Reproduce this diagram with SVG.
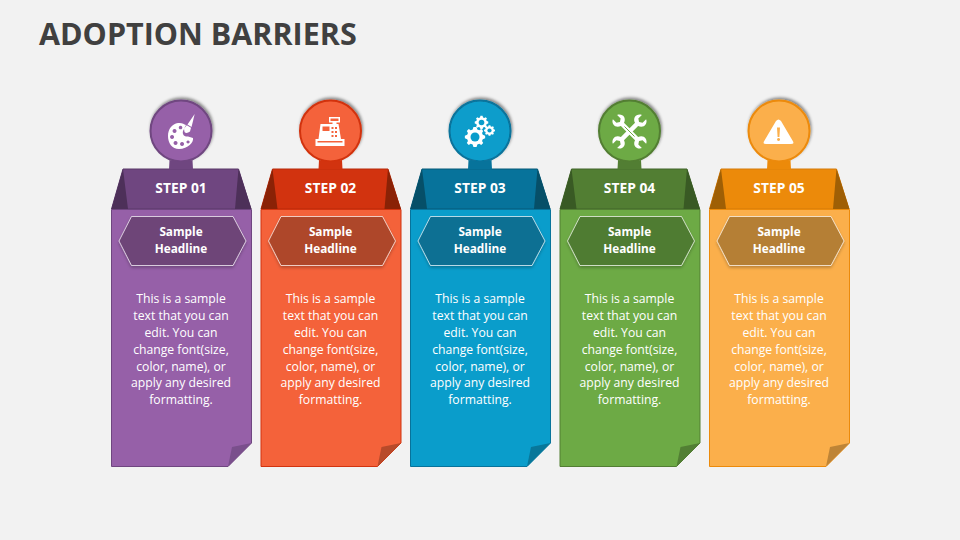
<svg xmlns="http://www.w3.org/2000/svg" width="960" height="540" viewBox="0 0 960 540">
<style>
text{font-family:"Open Sans","Noto Sans","Liberation Sans",sans-serif;text-anchor:middle;fill:#fff}
.title{font-size:30.500px;font-weight:700;fill:#404040;text-anchor:start}
.step{font-size:13.800px;font-weight:700}
.head{font-size:11.800px;font-weight:700}
.body{font-size:12.200px}
.ic{fill:#fff}
.card{fill:var(--card);stroke:var(--band)}
.band{fill:var(--band);stroke:var(--edge)}
.dark{fill:var(--dark)}
.fold{fill:var(--fold)}
.hex{fill:var(--hex);stroke:#fff;stroke-opacity:.7;stroke-width:1;filter:url(#hs)}
.disc{fill:var(--card);stroke:var(--band);stroke-width:2;filter:url(#cs)}
.hole{fill:var(--card)}
.c1{--card:#9660A8;--band:#6F4680;--edge:#5A3868;--dark:#4D3059;--fold:#7A4F8C;--hex:#6E4478}
.c2{--card:#F4623A;--band:#D2330F;--edge:#B82B0B;--dark:#8A2206;--fold:#B84A2A;--hex:#AE4729}
.c3{--card:#0A9DCB;--band:#07739B;--edge:#065A79;--dark:#064F68;--fold:#08779A;--hex:#0A6F93}
.c4{--card:#6DAA45;--band:#527E33;--edge:#41652A;--dark:#395A24;--fold:#527F34;--hex:#4F7C33}
.c5{--card:#FBAF4B;--band:#EC8A0A;--edge:#D57B08;--dark:#9F5F05;--fold:#BE8436;--hex:#B57F35}
</style>
<defs>
<filter id="cs" x="-30%" y="-30%" width="160%" height="160%"><feDropShadow dx="1" dy="-2" stdDeviation="1.800" flood-color="#000" flood-opacity=".45"/></filter>
<filter id="hs" x="-10%" y="-15%" width="120%" height="130%"><feDropShadow dx="0" dy="2" stdDeviation="1.500" flood-color="#000" flood-opacity=".25"/></filter>
<g id="shell">
<path class="band" d="M12 169H127.500L140 209H.500Z"/>
<path class="dark" d="M12 169L.500 209H17Z"/>
<path class="dark" d="M127.500 169L124 209H140.500Z"/>
<path class="card" d="M.500 209.500H140.500V443L117 466.500H.500Z"/>
<path class="fold" d="M117 466.500L121 447L140.500 443Z"/>
<path class="hex" d="M20.500 216.500H122L135 241L122 265.500H20.500L8 241Z"/>
<circle class="disc" cx="70" cy="131" r="30.500"/>
<path class="band" style="stroke:none" d="M58.500 160Q70 163 81.500 160L82 169.500H58Z"/>
</g>
<g id="lines">
<text class="head" x="70" y="236">Sample</text>
<text class="head" x="70" y="253">Headline</text>
<text class="body" x="70" y="303">This is a sample</text>
<text class="body" x="70" y="320">text that you can</text>
<text class="body" x="70" y="337">edit. You can</text>
<text class="body" x="70" y="354">change font(size,</text>
<text class="body" x="70" y="371">color, name), or</text>
<text class="body" x="70" y="387">apply any desired</text>
<text class="body" x="70" y="404">formatting.</text>
</g>
<path id="gear" d="M-2-12.750H2L3-9.750L5.500-8.750L8.200-10.250L10.500-7.750L9-5.250L10-2.750L13-1.750V1.750L10 2.750L9 5.250L10.500 7.750L8 10.250L5.500 8.750L3 9.750L2 12.750H-2L-3 9.750L-5.500 8.750L-8 10.250L-10.500 7.750L-9 5.250L-10 2.750L-13 1.750V-1.750L-10-2.750L-9-5.250L-10.500-7.750L-8-10.250L-5.500-8.750L-3-9.750Z"/>
<path id="wrench" d="M-2.200-10C-5.500-11-7-14-6.500-16C-6-18.500-4.500-20-3-20.500V-15.500L0-13.500L3-15.500V-20.500C4.500-20 6-18.500 6.500-16C7-14 5.500-11 2.200-10V10C5.500 11 7 14 6.500 16C6 18.500 4.500 20 3 20.500V15.500L0 13.500L-3 15.500V20.500C-4.500 20-6 18.500-6.500 16C-7 14-5.500 11-2.200 10Z"/>
</defs>
<rect width="960" height="540" fill="#F2F2F2"/>
<text class="title" x="39" y="45">ADOPTION BARRIERS</text>
<g id="connectors"/>

<g id="step-01" class="c1" transform="translate(111,0)">
<use href="#shell"/>
<text class="step" x="70" y="193">STEP 01</text>
<use href="#lines"/>
<g class="ic">
<path fill-rule="evenodd" d="M67 123C71 122.500 73 124 75 125L72 131C71 135 74 137 77 136.500L82 138C83 142 77 149 68 149C61 149 57 143 57 136C57 129 61 124 67 123ZM63.500 129a2 2 0 1 0 .1 0ZM61 135a2 2 0 1 0 .1 0ZM69.500 125.700a1.800 1.800 0 1 0 .1 0ZM64.500 141a2 2 0 1 0 .1 0ZM71 142a2 2 0 1 0 .1 0ZM77 140.400a1.600 1.600 0 1 0 .1 0Z"/>
<path d="M83.700 114L80.500 127L76.500 124.500Z"/><path d="M73 128.500L75.800 125.300L80 127.800L79 131.500Q75.500 134 73.500 132Z"/>
</g>
</g>

<g id="step-02" class="c2" transform="translate(260.500,0)">
<use href="#shell"/>
<text class="step" x="70" y="193">STEP 02</text>
<use href="#lines"/>
<g class="ic">
<path fill-rule="evenodd" d="M68.500 117H79.500V122.500H76V124H78L80.500 139H84V146H55V139H58L60 124H72V122.500H68.500ZM70 118.500V121H78V118.500ZM62 126.500V131H69V126.500ZM71 127V129H73V127ZM74.500 127V129H76.500V127ZM71 131V133H73V131ZM74.500 131V133H76.500V131ZM71 135V137H73V135ZM74.500 135V137H76.500V135ZM57 141V142.500H82V141Z"/>
</g>
</g>

<g id="step-03" class="c3" transform="translate(410,0)">
<use href="#shell"/>
<text class="step" x="70" y="193">STEP 03</text>
<use href="#lines"/>
<g class="ic">
<use href="#gear" transform="translate(65,137) scale(.78)"/>
<circle class="hole" cx="65" cy="137" r="4.500"/>
<use href="#gear" transform="translate(71.500,122.500) scale(.52)"/>
<circle class="hole" cx="71.500" cy="122.500" r="2.800"/>
<use href="#gear" transform="translate(79.500,130.500) scale(.42)"/>
<circle class="hole" cx="79.500" cy="130.500" r="2.100"/>
</g>
</g>

<g id="step-04" class="c4" transform="translate(559.500,0)">
<use href="#shell"/>
<text class="step" x="70" y="193">STEP 04</text>
<use href="#lines"/>
<g class="ic">
<use href="#wrench" transform="translate(70,131.500) rotate(45)"/>
<use href="#wrench" transform="translate(70,131.500) rotate(-45)"/>
<path d="M65 126.500L75 136.500" class="hole" style="fill:none;stroke:var(--card);stroke-width:1"/>
</g>
</g>

<g id="step-05" class="c5" transform="translate(709,0)">
<use href="#shell"/>
<text class="step" x="70" y="193">STEP 05</text>
<use href="#lines"/>
<g class="ic">
<path fill-rule="evenodd" d="M67 121Q69.500 118 72 121L83.500 140.500Q86 144 82 144H57Q53 144 55.500 140.500ZM68 127.500L68.600 137H70.400L71 127.500ZM69.500 138a1.500 1.500 0 1 0 .1 0Z"/>
</g>
</g>
</svg>
